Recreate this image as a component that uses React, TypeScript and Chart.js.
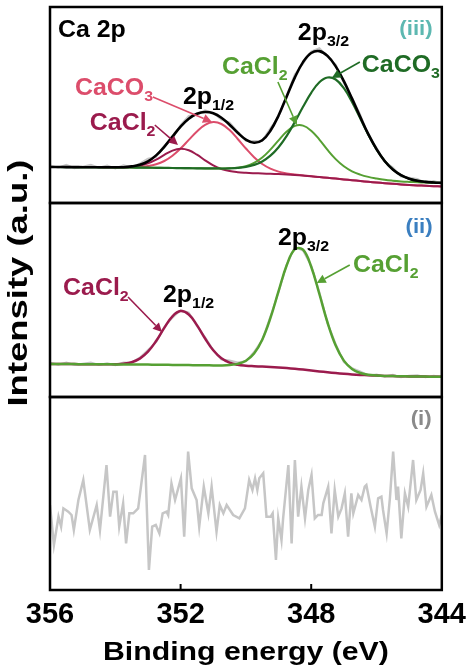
import { useEffect, useRef } from "react";
import { Chart, registerables } from "chart.js";

Chart.register(...registerables);

const FONT = '"Liberation Sans", Arial, Helvetica, sans-serif';

// Binding-energy grid of the fitted envelopes (eV)
const fitEnergies = [
  356.0, 355.75, 355.5, 355.25, 355.0, 354.75, 354.5, 354.25, 354.0, 353.75,
  353.5, 353.25, 353.0, 352.75, 352.5, 352.25, 352.0, 351.75, 351.5, 351.25,
  351.0, 350.75, 350.5, 350.25, 350.0, 349.75, 349.5, 349.25, 349.0, 348.75,
  348.5, 348.25, 348.0, 347.75, 347.5, 347.25, 347.0, 346.75, 346.5, 346.25,
  346.0, 345.75, 345.5, 345.25, 345.0, 344.75, 344.5, 344.25, 344.0,
];

// (iii) Ca 2p with CaCl2 + CaCO3 components
const envelopeIII = [
  36.0, 36.0, 35.9, 35.9, 35.8, 35.8, 35.7, 35.7, 35.7, 35.8,
  36.6, 38.2, 41.6, 47.6, 56.2, 66.4, 76.4, 84.3, 89.2, 91.0,
  89.7, 85.3, 78.3, 70.2, 63.4, 60.2, 62.7, 72.2, 87.5, 106.6,
  125.6, 140.9, 150.0, 151.9, 147.1, 136.6, 121.9, 104.4, 86.2, 68.8,
  53.9, 42.0, 33.5, 27.8, 24.3, 22.2, 21.1, 20.5, 20.1,
];
const rawIII = [
  37.5, 35.2, 38.1, 34.9, 36.4, 38.3, 35.2, 37.5, 34.5, 37.8,
  35.7, 39.4, 44.2, 46.1, 57.2, 64.4, 77.8, 87.1, 88.2, 92.6,
  90.2, 83.5, 80.5, 71.0, 62.2, 62.1, 62.1, 74.6, 86.1, 107.7,
  128.6, 139.7, 151.5, 154.8, 146.3, 138.3, 120.0, 105.3, 88.3, 67.7,
  55.2, 41.3, 35.5, 26.5, 25.3, 24.0, 20.2, 21.9, 19.5,
];
const caCl2HalfIII = [
  36.0, 36.0, 36.0, 36.0, 36.0, 35.9, 35.9, 35.8, 35.8, 35.8,
  36.2, 37.3, 39.6, 43.3, 48.1, 52.4, 54.3, 52.8, 48.3, 42.7,
  37.6, 34.0, 31.9, 30.8, 30.2, 29.8, 29.5, 29.2, 28.9, 28.5,
  28.0, 27.4, 26.7, 26.0, 25.2, 24.4, 23.6, 22.8, 22.0, 21.2,
  20.5, 19.8, 19.2, 18.6, 18.1, 17.6, 17.2, 16.8, 16.5,
];
const caCO3HalfIII = [
  36.0, 36.0, 36.0, 36.0, 36.0, 35.9, 35.9, 35.8, 35.7, 35.7,
  35.8, 36.1, 36.9, 38.7, 42.0, 47.3, 54.5, 63.1, 71.6, 78.1,
  80.9, 79.0, 72.9, 64.0, 54.5, 45.8, 39.0, 34.4, 31.4, 29.6,
  28.4, 27.6, 26.7, 26.0, 25.2, 24.4, 23.6, 22.8, 22.0, 21.2,
  20.5, 19.8, 19.2, 18.6, 18.1, 17.6, 17.2, 16.8, 16.5,
];
const caCl2ThreeHalfIII = [
  36.0, 36.0, 35.9, 35.9, 35.8, 35.8, 35.7, 35.7, 35.6, 35.5,
  35.5, 35.4, 35.3, 35.2, 35.1, 35.0, 34.9, 34.8, 34.7, 34.6,
  34.5, 34.5, 34.7, 35.3, 36.9, 40.1, 45.5, 53.4, 62.7, 71.5,
  77.1, 77.4, 72.3, 63.4, 53.1, 43.9, 36.7, 31.7, 28.4, 26.1,
  24.5, 23.2, 22.3, 21.6, 21.1, 20.7, 20.4, 20.2, 20.0,
];
const caCO3ThreeHalfIII = [
  36.0, 36.0, 35.9, 35.9, 35.8, 35.8, 35.7, 35.7, 35.6, 35.5,
  35.5, 35.4, 35.3, 35.2, 35.1, 35.0, 34.9, 34.8, 34.7, 34.6,
  34.6, 34.5, 34.7, 35.1, 36.1, 38.1, 41.5, 47.3, 55.8, 67.2,
  81.1, 96.2, 110.2, 120.7, 125.5, 123.5, 114.8, 101.1, 84.8, 68.3,
  53.7, 42.0, 33.5, 27.8, 24.3, 22.2, 21.1, 20.5, 20.1,
];

// (ii) Ca 2p with CaCl2 only
const rawII = [
  34.2, 32.4, 34.4, 32.0, 33.2, 34.4, 32.0, 33.8, 31.8, 34.6,
  34.3, 39.3, 47.1, 54.8, 69.9, 79.3, 86.9, 84.5, 71.1, 59.7,
  47.0, 37.4, 36.5, 34.6, 35.7, 45.0, 56.9, 80.5, 104.7, 132.5,
  150.0, 146.4, 131.3, 104.9, 73.9, 52.8, 35.0, 28.8, 25.5, 21.5,
  22.6, 20.6, 22.3, 19.7, 21.3, 21.8, 19.7, 21.3, 19.9,
];
const caCl2HalfII = [
  33.0, 33.0, 32.9, 32.9, 32.8, 32.8, 32.7, 32.7, 32.8, 33.3,
  34.8, 38.4, 45.3, 56.0, 69.1, 80.7, 85.9, 82.5, 71.9, 58.5,
  46.7, 38.7, 34.3, 32.2, 31.3, 30.8, 30.4, 30.0, 29.5, 28.9,
  28.2, 27.4, 26.5, 25.6, 24.7, 23.9, 23.2, 22.6, 22.1, 21.7,
  21.4, 21.1, 20.9, 20.7, 20.6, 20.5, 20.4, 20.3, 20.3,
];
const caCl2ThreeHalfII = [
  33.0, 33.0, 32.9, 32.9, 32.8, 32.8, 32.7, 32.7, 32.6, 32.6,
  32.5, 32.5, 32.4, 32.3, 32.2, 32.1, 32.0, 31.9, 31.8, 31.7,
  31.6, 31.6, 32.0, 33.1, 36.3, 43.5, 57.3, 78.8, 105.8, 131.7,
  147.8, 147.3, 130.2, 103.0, 74.5, 51.5, 36.4, 28.1, 24.0, 22.3,
  21.6, 21.1, 20.9, 20.7, 20.6, 20.5, 20.4, 20.3, 20.3,
];

// (i) no Ca signal, noise only
const surveyEnergies = [
  356.0, 355.88, 355.74, 355.66, 355.59, 355.44, 355.34, 355.27, 355.13, 354.98,
  354.78, 354.57, 354.47, 354.27, 354.16, 354.06, 353.96, 353.88, 353.76, 353.67,
  353.57, 353.45, 353.3, 353.09, 352.97, 352.87, 352.76, 352.65, 352.55, 352.43,
  352.38, 352.28, 352.17, 351.99, 351.89, 351.77, 351.66, 351.51, 351.43, 351.29,
  351.15, 351.05, 350.9, 350.8, 350.69, 350.59, 350.49, 350.39, 350.2, 350.03,
  349.9, 349.8, 349.72, 349.65, 349.59, 349.47, 349.37, 349.24, 349.18, 349.08,
  349.01, 348.91, 348.86, 348.7, 348.6, 348.5, 348.4, 348.3, 348.19, 348.09,
  347.99, 347.89, 347.79, 347.68, 347.63, 347.48, 347.38, 347.28, 347.17, 347.07,
  346.97, 346.87, 346.77, 346.71, 346.56, 346.46, 346.36, 346.31, 346.18, 346.05,
  345.95, 345.85, 345.8, 345.69, 345.59, 345.49, 345.39, 345.34, 345.24, 345.13,
  345.03, 344.88, 344.78, 344.65, 344.57, 344.47, 344.32, 344.21, 344.08, 344.0,
];
const surveyCounts = [
  255, 135, 220, 190, 245, 235, 225, 180, 270, 330,
  180, 255, 180, 375, 220, 295, 295, 190, 260, 140,
  230, 230, 245, 405, 60, 190, 195, 170, 230, 235,
  225, 320, 270, 335, 160, 415, 305, 270, 190, 310,
  230, 310, 175, 255, 230, 255, 240, 225, 215, 245,
  330, 300, 335, 300, 335, 350, 220, 220, 230, 90,
  215, 150, 215, 375, 140, 390, 220, 310, 215, 300,
  345, 215, 225, 225, 260, 310, 170, 300, 220, 245,
  290, 160, 290, 230, 285, 270, 310, 315, 250, 190,
  275, 280, 240, 170, 275, 415, 270, 310, 155, 290,
  250, 390, 270, 300, 350, 250, 285, 235, 195, 225,
];

const xTicks = [356, 352, 348, 344];

const BLACK = "#000000";
const CRIMSON = "#9b1b4d";
const PINK = "#dc4d6b";
const LIGHT_GREEN = "#56a033";
const DARK_GREEN = "#1f6b25";
const RAW_GRAY = "#c6c6c6";

type Part = { text: string; sub?: boolean };
type Note = {
  axis: string;
  x: number;
  y: number;
  parts: Part[];
  color: string;
  align?: "left" | "right";
  size?: number;
};
type Pointer = { axis: string; from: [number, number]; to: [number, number]; color: string };

const notes: Note[] = [
  { axis: "yIII", x: 355.755, y: 166.5, parts: [{ text: "Ca 2p" }], color: BLACK },
  { axis: "yIII", x: 344.28, y: 168, parts: [{ text: "(iii)" }], color: "#5db8b1", align: "right", size: 21 },
  { axis: "yIII", x: 348.41, y: 163, parts: [{ text: "2p" }, { text: "3/2", sub: true }], color: BLACK },
  { axis: "yIII", x: 350.735, y: 129, parts: [{ text: "CaCl" }, { text: "2", sub: true }], color: LIGHT_GREEN },
  { axis: "yIII", x: 346.45, y: 131, parts: [{ text: "CaCO" }, { text: "3", sub: true }], color: DARK_GREEN },
  { axis: "yIII", x: 355.235, y: 108, parts: [{ text: "CaCO" }, { text: "3", sub: true }], color: PINK },
  { axis: "yIII", x: 351.93, y: 99, parts: [{ text: "2p" }, { text: "1/2", sub: true }], color: BLACK },
  { axis: "yIII", x: 354.78, y: 73, parts: [{ text: "CaCl" }, { text: "2", sub: true }], color: CRIMSON },
  { axis: "yII", x: 344.28, y: 164, parts: [{ text: "(ii)" }], color: "#3b7fc0", align: "right", size: 21 },
  { axis: "yII", x: 349.02, y: 152, parts: [{ text: "2p" }, { text: "3/2", sub: true }], color: BLACK },
  { axis: "yII", x: 346.72, y: 125, parts: [{ text: "CaCl" }, { text: "2", sub: true }], color: LIGHT_GREEN },
  { axis: "yII", x: 355.6, y: 102, parts: [{ text: "CaCl" }, { text: "2", sub: true }], color: CRIMSON },
  { axis: "yII", x: 352.54, y: 95, parts: [{ text: "2p" }, { text: "1/2", sub: true }], color: BLACK },
  { axis: "yI", x: 344.31, y: 495, parts: [{ text: "(i)" }], color: "#8a8a8a", align: "right", size: 21 },
];

const pointers: Pointer[] = [
  { axis: "yIII", from: [352.85, 106], to: [351.04, 81], color: PINK },
  { axis: "yIII", from: [352.79, 78], to: [352.08, 58], color: CRIMSON },
  { axis: "yIII", from: [349.02, 121], to: [348.44, 78], color: LIGHT_GREEN },
  { axis: "yIII", from: [346.51, 141], to: [347.37, 125], color: DARK_GREEN },
  { axis: "yII", from: [346.82, 132], to: [347.83, 114], color: LIGHT_GREEN },
  { axis: "yII", from: [353.61, 100], to: [352.57, 65], color: CRIMSON },
];

const pts = (xs: number[], ys: number[]) => xs.map((x, i) => ({ x, y: ys[i] }));

function fitLine(label: string, ys: number[], axis: string, color: string, width: number) {
  return {
    label,
    data: pts(fitEnergies, ys),
    yAxisID: axis,
    showLine: true,
    borderColor: color,
    borderWidth: width,
    pointRadius: 0,
    tension: 0.4,
    fill: false,
  };
}

function drawRich(
  ctx: CanvasRenderingContext2D,
  parts: Part[],
  x: number,
  y: number,
  size: number,
  color: string,
  sx: number,
  align: "left" | "right"
) {
  const subSize = size * 0.64;
  const widths = parts.map((p) => {
    ctx.font = `bold ${p.sub ? subSize : size}px ${FONT}`;
    return ctx.measureText(p.text).width;
  });
  const total = widths.reduce((a, b) => a + b, 0) * sx;
  const start = align === "right" ? x - total : x;
  ctx.save();
  ctx.translate(start, y);
  ctx.scale(sx, 1);
  ctx.fillStyle = color;
  ctx.textAlign = "left";
  ctx.textBaseline = "alphabetic";
  let cx = 0;
  parts.forEach((p, i) => {
    ctx.font = `bold ${p.sub ? subSize : size}px ${FONT}`;
    ctx.fillText(p.text, cx, p.sub ? size * 0.26 : 0);
    cx += widths[i];
  });
  ctx.restore();
}

function drawFitted(ctx: CanvasRenderingContext2D, text: string, size: number, width: number) {
  ctx.font = `bold ${size}px ${FONT}`;
  const w = ctx.measureText(text).width;
  ctx.scale(width / w, 1);
  ctx.textAlign = "center";
  ctx.textBaseline = "alphabetic";
  ctx.fillStyle = BLACK;
  ctx.fillText(text, 0, 0);
}

const decorations = {
  id: "decorations",
  afterDraw(chart: any) {
    const ctx: CanvasRenderingContext2D = chart.ctx;
    const { left, right } = chart.chartArea;
    const xs = chart.scales.x;
    ctx.save();

    // arrows
    pointers.forEach((p) => {
      const ys = chart.scales[p.axis];
      const x0 = xs.getPixelForValue(p.from[0]);
      const y0 = ys.getPixelForValue(p.from[1]);
      const x1 = xs.getPixelForValue(p.to[0]);
      const y1 = ys.getPixelForValue(p.to[1]);
      const ang = Math.atan2(y1 - y0, x1 - x0);
      const head = 9;
      const half = 4.5;
      const bx = x1 - Math.cos(ang) * head;
      const by = y1 - Math.sin(ang) * head;
      ctx.strokeStyle = p.color;
      ctx.fillStyle = p.color;
      ctx.lineWidth = 1.6;
      ctx.beginPath();
      ctx.moveTo(x0, y0);
      ctx.lineTo(bx, by);
      ctx.stroke();
      ctx.beginPath();
      ctx.moveTo(x1, y1);
      ctx.lineTo(bx + Math.sin(ang) * half, by - Math.cos(ang) * half);
      ctx.lineTo(bx - Math.sin(ang) * half, by + Math.cos(ang) * half);
      ctx.closePath();
      ctx.fill();
    });

    // labels
    notes.forEach((n) => {
      const ys = chart.scales[n.axis];
      drawRich(
        ctx,
        n.parts,
        xs.getPixelForValue(n.x),
        ys.getPixelForValue(n.y),
        n.size ?? 23.5,
        n.color,
        1.06,
        n.align ?? "left"
      );
    });

    // panel frames
    ctx.strokeStyle = BLACK;
    ctx.lineWidth = 2.5;
    ["yIII", "yII", "yI"].forEach((id) => {
      const s = chart.scales[id];
      ctx.strokeRect(left, s.top, right - left, s.bottom - s.top);
    });

    // inward tick marks on the bottom panel
    const bottom = chart.scales.yI.bottom;
    ctx.lineWidth = 2;
    xs.ticks.forEach((t: any) => {
      if (t.value === xs.min || t.value === xs.max) return;
      const px = xs.getPixelForValue(t.value);
      ctx.beginPath();
      ctx.moveTo(px, bottom);
      ctx.lineTo(px, bottom - 6);
      ctx.stroke();
    });

    // axis titles
    ctx.save();
    ctx.translate((left + right) / 2, 660);
    drawFitted(ctx, "Binding energy (eV)", 25, 286);
    ctx.restore();

    ctx.save();
    ctx.translate(27, 283);
    ctx.rotate(-Math.PI / 2);
    drawFitted(ctx, "Intensity (a.u.)", 28, 247);
    ctx.restore();

    ctx.restore();
  },
};

function panelAxis(min: number, max: number, stackWeight: number, weight: number) {
  return {
    type: "linear" as const,
    position: "left" as const,
    stack: "panels",
    stackWeight,
    weight,
    min,
    max,
    grid: { display: false, drawTicks: false },
    border: { display: false },
    ticks: { display: false },
    afterFit: (s: any) => {
      s.width = 50;
    },
  };
}

export default function App() {
  const ref = useRef<HTMLCanvasElement>(null);

  useEffect(() => {
    const canvas = ref.current;
    if (!canvas) return;
    const chart = new Chart(canvas, {
      type: "scatter",
      data: {
        datasets: [
          fitLine("Envelope (iii)", envelopeIII, "yIII", BLACK, 2.6),
          fitLine("CaCO3 2p3/2 (iii)", caCO3ThreeHalfIII, "yIII", DARK_GREEN, 2.2),
          fitLine("CaCl2 2p3/2 (iii)", caCl2ThreeHalfIII, "yIII", LIGHT_GREEN, 2),
          fitLine("CaCl2 2p1/2 (iii)", caCl2HalfIII, "yIII", CRIMSON, 2),
          fitLine("CaCO3 2p1/2 (iii)", caCO3HalfIII, "yIII", PINK, 2),
          {
            label: "Raw (iii)",
            data: pts(fitEnergies, rawIII),
            yAxisID: "yIII",
            showLine: true,
            borderColor: RAW_GRAY,
            borderWidth: 2,
            pointRadius: 0,
            tension: 0,
          },
          fitLine("CaCl2 2p3/2 (ii)", caCl2ThreeHalfII, "yII", LIGHT_GREEN, 2.5),
          fitLine("CaCl2 2p1/2 (ii)", caCl2HalfII, "yII", CRIMSON, 2.5),
          {
            label: "Raw (ii)",
            data: pts(fitEnergies, rawII),
            yAxisID: "yII",
            showLine: true,
            borderColor: RAW_GRAY,
            borderWidth: 2,
            pointRadius: 0,
            tension: 0,
          },
          {
            label: "Raw (i)",
            data: pts(surveyEnergies, surveyCounts),
            yAxisID: "yI",
            showLine: true,
            borderColor: RAW_GRAY,
            borderWidth: 2.5,
            pointRadius: 0,
            tension: 0,
          },
        ],
      },
      options: {
        animation: false,
        responsive: false,
        events: [],
        layout: { padding: { top: 7, right: 32, left: 0, bottom: 0 } },
        plugins: { legend: { display: false }, tooltip: { enabled: false } },
        scales: {
          x: {
            type: "linear",
            position: "bottom",
            min: 344,
            max: 356,
            reverse: true,
            grid: { display: false, drawTicks: false },
            border: { display: false },
            ticks: {
              font: { family: FONT, size: 29, weight: "bold" },
              color: BLACK,
              padding: 8,
              maxRotation: 0,
              autoSkip: false,
            },
            afterBuildTicks: (s: any) => {
              s.ticks = xTicks.map((value) => ({ value }));
            },
            afterFit: (s: any) => {
              s.height = 81;
            },
          },
          yIII: panelAxis(0, 196, 196, 3),
          yII: panelAxis(0, 194, 194, 2),
          yI: panelAxis(0, 579, 193, 1),
        } as any,
      },
      plugins: [decorations],
    });
    return () => chart.destroy();
  }, []);

  return (
    <div style={{ position: "absolute", left: 0, top: 0, width: 474, height: 671, background: "#fff" }}>
      <canvas ref={ref} width={474} height={671} style={{ display: "block", width: 474, height: 671 }} />
    </div>
  );
}
